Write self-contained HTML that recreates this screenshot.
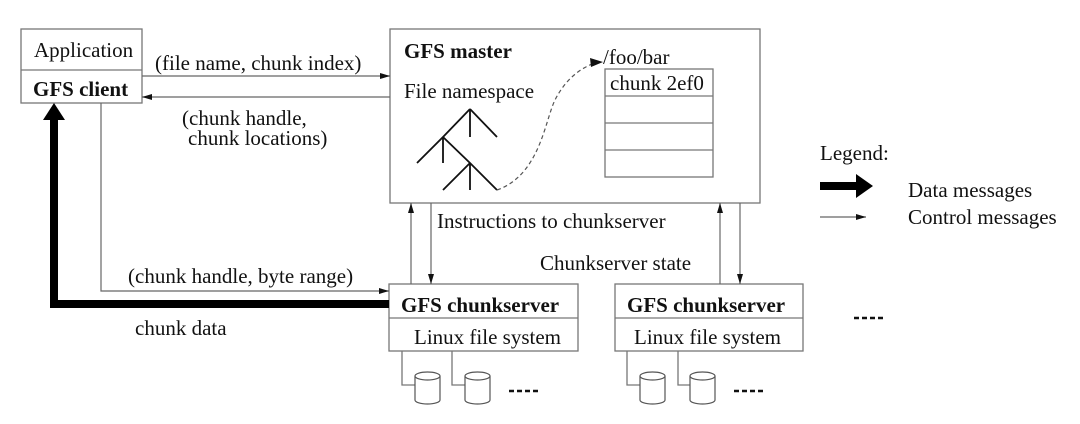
<!DOCTYPE html>
<html><head><meta charset="utf-8"><style>
body{margin:0;background:#fff}
svg{display:block}
text{font-family:"Liberation Serif",serif;font-size:21px;fill:#111}
.b{font-weight:bold}
</style></head><body>
<svg width="1080" height="424" viewBox="0 0 1080 424">
<defs>
<marker id="a" markerWidth="10" markerHeight="8" refX="10" refY="4" orient="auto" markerUnits="userSpaceOnUse"><path d="M0,1 L10,4 L0,7 Z" fill="#111"/></marker>
</defs>
<g stroke="#777" stroke-width="1.3" fill="none">
<rect x="21" y="29" width="121" height="74"/><line x1="21" y1="70" x2="142" y2="70"/>
<rect x="390" y="29" width="370" height="174"/>
<rect x="605" y="69" width="108" height="108"/>
<line x1="605" y1="96" x2="713" y2="96"/><line x1="605" y1="123" x2="713" y2="123"/><line x1="605" y1="150" x2="713" y2="150"/>
<rect x="389" y="284" width="189" height="67"/><line x1="389" y1="318" x2="578" y2="318"/>
<rect x="615" y="284" width="188" height="67"/><line x1="615" y1="318" x2="803" y2="318"/>
<path d="M402 351V385H415M452 351V385H465M627 351V385H640M678 351V385H690"/>
</g>
<g stroke="#555" stroke-width="1.2" fill="#fff">
<path d="M415 376v24a12.5 4 0 0 0 25 0v-24"/><ellipse cx="427.5" cy="376" rx="12.5" ry="4"/>
<path d="M465 376v24a12.5 4 0 0 0 25 0v-24"/><ellipse cx="477.5" cy="376" rx="12.5" ry="4"/>
<path d="M640 376v24a12.5 4 0 0 0 25 0v-24"/><ellipse cx="652.5" cy="376" rx="12.5" ry="4"/>
<path d="M690 376v24a12.5 4 0 0 0 25 0v-24"/><ellipse cx="702.5" cy="376" rx="12.5" ry="4"/>
</g>
<g stroke="#111" stroke-width="2.5" stroke-dasharray="5,3">
<line x1="509" y1="391" x2="540" y2="391"/><line x1="734" y1="391" x2="765" y2="391"/><line x1="854" y1="318" x2="885" y2="318"/>
</g>
<g stroke="#666" stroke-width="1.2" fill="none">
<line x1="142" y1="76" x2="390" y2="76" marker-end="url(#a)"/>
<line x1="390" y1="97" x2="142" y2="97" marker-end="url(#a)"/>
<path d="M101 103V291H389" marker-end="url(#a)"/>
<line x1="411" y1="284" x2="411" y2="203" marker-end="url(#a)"/>
<line x1="431" y1="203" x2="431" y2="284" marker-end="url(#a)"/>
<line x1="720" y1="284" x2="720" y2="203" marker-end="url(#a)"/>
<line x1="740" y1="203" x2="740" y2="284" marker-end="url(#a)"/>
<line x1="820" y1="217" x2="866" y2="217" marker-end="url(#a)"/>
</g>
<g stroke="#111" stroke-width="1.8" fill="none">
<path d="M470 109L443 137L417 163M470 109L497 137M470 109V137M443 137L470 163L497 190M443 137V163M470 163L443 190M470 163V190"/>
</g>
<path d="M497 190C540 175 545 120 555 100S580 68 595 63" stroke="#555" stroke-width="1.2" stroke-dasharray="4,3" fill="none"/>
<path d="M590 58L603 62L591 67Z" fill="#111"/>
<path d="M389 304H54V118" stroke="#000" stroke-width="8" fill="none"/>
<path d="M43 120L54 103L65 120Z" fill="#000"/>
<path d="M820 186H858" stroke="#000" stroke-width="8"/><path d="M856 178L873 190L856 202Z" fill="#000" transform="translate(0,-4)"/>
<text x="34" y="57">Application</text>
<text x="33" y="96" class="b">GFS client</text>
<text x="155" y="70">(file name, chunk index)</text>
<text x="182" y="125">(chunk handle,</text>
<text x="188" y="145">chunk locations)</text>
<text x="404" y="58" class="b">GFS master</text>
<text x="404" y="98">File namespace</text>
<text x="603" y="64">/foo/bar</text>
<text x="610" y="90">chunk 2ef0</text>
<text x="437" y="228">Instructions to chunkserver</text>
<text x="540" y="270">Chunkserver state</text>
<text x="128" y="283">(chunk handle, byte range)</text>
<text x="135" y="335">chunk data</text>
<text x="401" y="312" class="b">GFS chunkserver</text>
<text x="414" y="344">Linux file system</text>
<text x="627" y="312" class="b">GFS chunkserver</text>
<text x="634" y="344">Linux file system</text>
<text x="820" y="160">Legend:</text>
<text x="908" y="197">Data messages</text>
<text x="908" y="224">Control messages</text>
</svg>
</body></html>
